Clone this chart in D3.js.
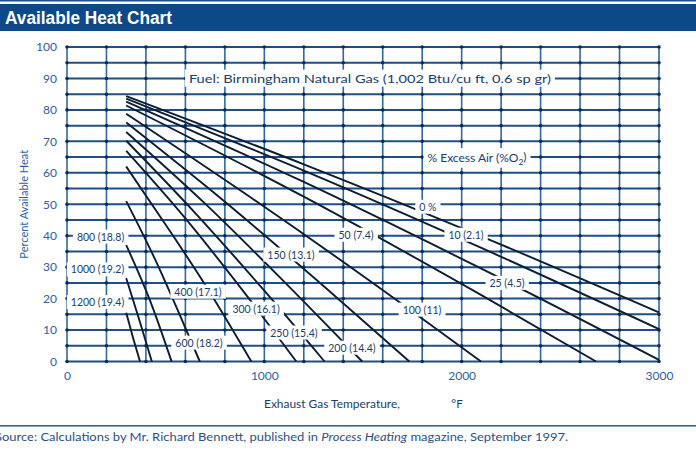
<!DOCTYPE html>
<html><head><meta charset="utf-8">
<script src="https://cdn.jsdelivr.net/npm/d3@7"></script>
<style>body{margin:0;background:#fff}svg{display:block}</style>
</head><body>
<svg id="chart" width="696" height="469"></svg>
<script>
// ---------- data ----------
const chartTitle = "Available Heat Chart";
const yTickValues = [0,10,20,30,40,50,60,70,80,90,100];
const xTickValues = [0,1000,2000,3000];
const seriesNames = ["0 %","10 (2.1)","25 (4.5)","50 (7.4)","100 (11)","150 (13.1)","200 (14.4)",
  "250 (15.4)","300 (16.1)","400 (17.1)","600 (18.2)","800 (18.8)","1000 (19.2)","1200 (19.4)"];
const seriesTemps = [
  [300,1200,2100,3000],[300,1200,2100,3000],[300,1200,2100,3000],[300,1200,2100,2681],
  [300,900,1500,2098],[300,800,1300,1735],[300,700,1100,1496],[300,650,1000,1305],
  [300,600,900,1162],[300,500,700,934],[300,450,560,673],[300,420,530],[300,365,430],[300,335,370]];
const seriesValues = [
  [84.4,62.7,39.8,15.6],[83.6,60.7,36.1,10.3],[82.6,57.1,29.5,0.5],[81.4,52.4,21.1,0],
  [78.8,53.5,27.2,0],[76.0,50.8,24.0,0],[73.0,50.2,25.4,0],[70.2,47.2,22.5,0],
  [67.0,45.5,21.8,0],[62.0,43.5,24.4,0],[51.0,32.0,16.5,0],[37.0,19.5,0],[26.5,13.5,0],[15.5,7.5,0]];
// label anchor points (temperature, percent) for each series label
const labelTemps  = [1829,2022,2230,1465,1799,1135,1444,1150,958,664,669,290,290,290];
const labelValues = [49.1,40.2,24.9,40.2,16.4,33.9,4.3,9.1,16.7,22.1,5.9,39.6,29.2,18.8];
const fuelNote = "Fuel: Birmingham Natural Gas (1,002 Btu/cu ft, 0.6 sp gr)";
const excessNote = "% Excess Air (%O";
const xTitle = "Exhaust Gas Temperature,";
const xUnit = "°F";
const yTitle = "Percent Available Heat";

// ---------- drawing ----------
const svg = d3.select("#chart");
const W = 696, H = 469;
const x = d3.scaleLinear().domain([0,3000]).range([67,659]);
const y = d3.scaleLinear().domain([0,100]).range([361.5,47]);
const font = "Lato, 'Open Sans', sans-serif";
const blue = "#2a62a8", navy = "#17406f";

// title bar
svg.append("rect").attr("x",0).attr("y",0).attr("width",W).attr("height",1.5).attr("fill","#1b4f8e");
svg.append("rect").attr("x",0).attr("y",4).attr("width",W).attr("height",27).attr("fill","#0d4889");
svg.append("text").attr("x",5).attr("y",24).text(chartTitle)
  .attr("font-family","'Liberation Sans', Arial, sans-serif").attr("font-weight","bold")
  .attr("font-size",18).attr("fill","#fff").attr("textLength",167).attr("lengthAdjust","spacingAndGlyphs");

// grid
const xGrid = d3.range(0,3001,200), yGrid = d3.range(0,101,5);
const g = svg.append("g");
g.selectAll("line.v").data(xGrid).join("line").attr("class","v")
  .attr("x1",d=>x(d)).attr("x2",d=>x(d)).attr("y1",y(100)).attr("y2",y(0))
  .attr("stroke","#2f68a6").attr("stroke-width",1.6);
g.selectAll("line.h").data(yGrid).join("line").attr("class","h")
  .attr("y1",d=>y(d)).attr("y2",d=>y(d)).attr("x1",x(0)).attr("x2",x(3000))
  .attr("stroke","#1e4f86").attr("stroke-width",2);
const pts = [];
xGrid.forEach(a=>yGrid.forEach(b=>pts.push([a,b])));
g.selectAll("circle").data(pts).join("circle")
  .attr("cx",d=>x(d[0])).attr("cy",d=>y(d[1])).attr("r",1.8).attr("fill","#0c2c55");

// axes labels
const yAxis = d3.axisLeft(y).tickValues(yTickValues).tickSize(0).tickPadding(10);
const ya = svg.append("g").attr("transform",`translate(${x(0)},0)`).call(yAxis);
ya.select(".domain").remove();
ya.selectAll("text").attr("font-family",font).attr("font-size",12).attr("fill",blue);
const xAxis = d3.axisBottom(x).tickValues(xTickValues).tickSize(0).tickPadding(10).tickFormat(d3.format("d"));
const xa = svg.append("g").attr("transform",`translate(0,${y(0)})`).call(xAxis);
xa.select(".domain").remove();
xa.selectAll("text").attr("font-family",font).attr("font-size",12).attr("fill",blue);

svg.append("text").attr("transform",`translate(24,${y(50)}) rotate(-90)`).attr("text-anchor","middle")
  .attr("dy","0.35em").attr("font-family",font).attr("font-size",11).attr("fill",blue).text(yTitle);
svg.append("text").attr("x",332).attr("y",408).attr("text-anchor","middle")
  .attr("font-family",font).attr("font-size",11.5).attr("fill",navy)
  .attr("textLength",136).attr("lengthAdjust","spacingAndGlyphs").text(xTitle);
svg.append("text").attr("x",457).attr("y",408).attr("text-anchor","middle")
  .attr("font-family",font).attr("font-size",11.5).attr("fill",navy).text(xUnit);

// curves
const line = d3.line().x(d=>x(d[0])).y(d=>y(d[1])).curve(d3.curveMonotoneX);
const series = seriesNames.map((n,i)=>({name:n, pts: seriesTemps[i].map((t,j)=>[t,seriesValues[i][j]])}));
svg.append("g").selectAll("path").data(series).join("path")
  .attr("d",d=>line(d.pts)).attr("fill","none").attr("stroke","#0b1c36").attr("stroke-width",1.9);

// labels with white knockout
function label(txt, tx, ty, anchor, size, sub, len){
  const gg = svg.append("g");
  const r = gg.append("rect").attr("fill","#fff");
  const t = gg.append("text").attr("x",tx).attr("y",ty).attr("dy","0.35em").attr("text-anchor",anchor)
    .attr("font-family",font).attr("font-size",size).attr("fill",navy).text(txt);
  if(sub){ t.append("tspan").attr("font-size",size*0.7).attr("dy","0.3em").text(sub);
           t.append("tspan").attr("dy","-0.3em").text(")"); }
  if(len){ t.attr("textLength",len).attr("lengthAdjust","spacingAndGlyphs"); }
  const b = t.node().getBBox();
  r.attr("x",b.x-4).attr("y",b.y-1).attr("width",b.width+8).attr("height",b.height+2);
}
seriesNames.forEach((n,i)=>label(n, x(labelTemps[i]), y(labelValues[i]), i>=11?"end":"middle", 10.5));
label(fuelNote, x(1535), y(90), "middle", 12, null, 362);
label(excessNote, x(2078), y(64.7), "middle", 12, "2");

// footer
svg.append("rect").attr("x",0).attr("y",425).attr("width",W).attr("height",1.6).attr("fill","#2a62a8");
const src = svg.append("text").attr("x",-5).attr("y",441).attr("font-family",font).attr("font-size",11.5)
  .attr("fill","#27518a").attr("textLength",573).attr("lengthAdjust","spacingAndGlyphs");
src.append("tspan").text("Source: Calculations by Mr. Richard Bennett, published in ");
src.append("tspan").attr("font-style","italic").text("Process Heating");
src.append("tspan").text(" magazine, September 1997.");
</script>
</body></html>
